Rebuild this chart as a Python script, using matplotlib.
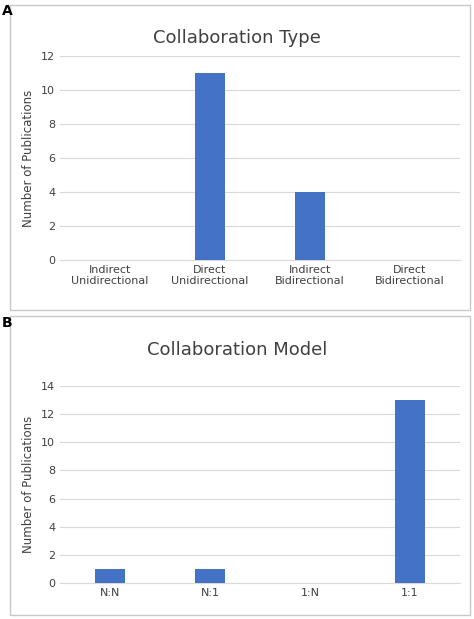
import matplotlib
matplotlib.use("Agg")
import matplotlib.pyplot as plt
from matplotlib.patches import Rectangle

types = ["Indirect\nUnidirectional", "Direct\nUnidirectional", "Indirect\nBidirectional", "Direct\nBidirectional"]
type_counts = [0, 11, 4, 0]
models = ["N:N", "N:1", "1:N", "1:1"]
model_counts = [1, 1, 0, 13]

W, H = 474, 619
fig = plt.figure(figsize=(W/100, H/100), dpi=100)
plt.rcParams['font.family'] = ['DejaVu Sans']

for (y0, y1) in [(5, 310), (316, 615)]:
    fig.add_artist(Rectangle((10/W, 1-y1/H), 460/W, (y1-y0)/H, transform=fig.transFigure,
                             fill=False, edgecolor="#c8c8c8", lw=1))
fig.text(2/W, 1-4/H, "A", fontsize=10, fontweight="bold", va="top")
fig.text(2/W, 1-316/H, "B", fontsize=10, fontweight="bold", va="top")

def panel(rect, cats, vals, ymax, step, title, ty):
    ax = fig.add_axes(rect)
    ax.bar(range(len(cats)), vals, width=0.3, color="#4472C4", zorder=3)
    ax.set_ylim(0, ymax)
    ax.set_yticks(range(0, ymax+1, step))
    ax.set_xlim(-0.5, len(cats)-0.5)
    ax.set_xticks(range(len(cats)))
    ax.set_xticklabels(cats, fontsize=8, color="#404040")
    ax.tick_params(axis='y', labelsize=8, colors="#404040", length=0)
    ax.tick_params(axis='x', length=0)
    ax.grid(axis='y', color="#d9d9d9", lw=0.8, zorder=0)
    for s in ["top", "right", "left"]:
        ax.spines[s].set_visible(False)
    ax.spines["bottom"].set_color("#d9d9d9")
    ax.set_ylabel("Number of Publications", fontsize=8.5, color="#404040")
    fig.text(0.5, 1-ty/H, title, ha="center", va="center", fontsize=13, color="#404040")
    return ax

panel([60/W, 1-260/H, 400/W, 204/H], types, type_counts, 12, 2, "Collaboration Type", 38)
panel([60/W, 1-583/H, 400/W, 197/H], models, model_counts, 14, 2, "Collaboration Model", 350)

fig.savefig("out.png", dpi=100)
